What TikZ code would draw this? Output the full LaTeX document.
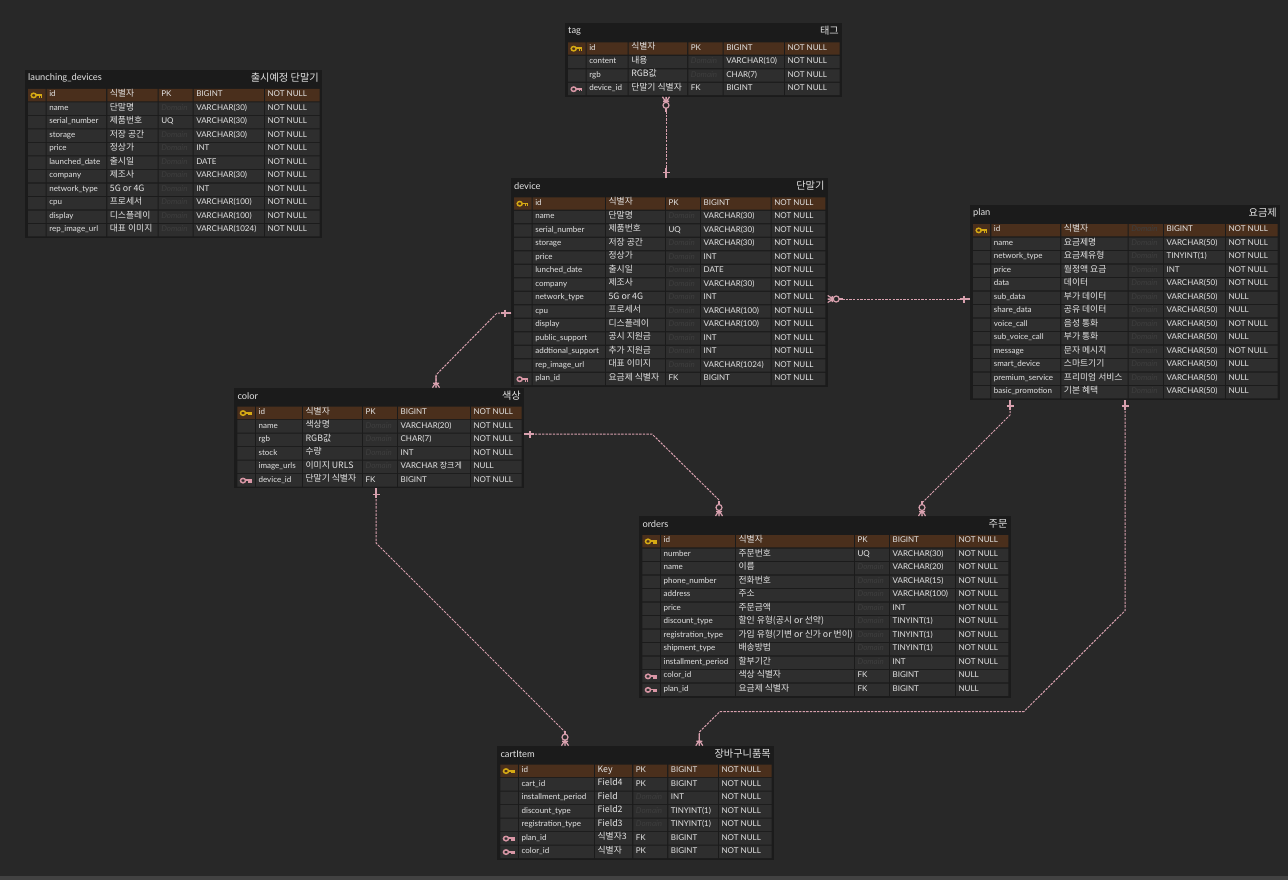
\documentclass[tikz,border=0pt]{standalone}
\usepackage{fontspec}
\setmainfont{Lato}
\newfontfamily\krfont{Noto Sans CJK KR}
\usetikzlibrary{positioning,calc}
\definecolor{canvasbg}{RGB}{40,40,40}
\definecolor{bandbg}{RGB}{66,66,66}
\definecolor{boxbg}{RGB}{27,27,27}
\definecolor{bodycell}{RGB}{46,46,46}
\definecolor{headcell}{RGB}{74,47,28}
\definecolor{celltext}{RGB}{228,228,228}
\definecolor{domtext}{RGB}{62,62,62}
\definecolor{keypk}{RGB}{214,170,20}
\definecolor{keyfk}{RGB}{216,150,165}
\definecolor{relpink}{RGB}{216,160,174}
\tikzset{
    erdbox/.style={fill=boxbg,draw=none,inner sep=0pt,outer sep=0pt,anchor=north west},
    titletext/.style={text=celltext,inner sep=0pt,font=\fontsize{9.3}{10}\selectfont},
    kotitle/.style={text=celltext,inner sep=0pt,font=\krfont\fontsize{10.2}{11}\selectfont},
    fieldtext/.style={text=celltext,inner sep=0pt,anchor=base west,font=\fontsize{8}{9}\selectfont},
    kotext/.style={fieldtext,font=\krfont\fontsize{8.8}{10}\selectfont},
    rel/.style={draw=relpink,line width=1pt,dash pattern=on 2.4pt off 1.2pt},
    relmark/.style={draw=relpink,line width=1.2pt},
    keyicon/.pic={
        \draw[draw=#1,line width=1.5pt] (-3,0) ellipse (2.5 and 2.2);
        \draw[draw=#1,line width=1.6pt] (-0.6,-0.4) -- (5.6,-0.4);
        \draw[draw=#1,line width=1.2pt] (3,0) -- (3,2.3) (5,0) -- (5,2.3);
    },
    onemark/.pic={
        \draw[relmark] (0,0) -- (0,10) (-3.5,6) -- (3.5,6);
    },
    manymark/.pic={
        \draw[relmark] (0,0) -- (0,12) (-3.5,0) -- (0,5.5) -- (3.5,0) (-3,4.5) -- (3,4.5);
    },
    zeromany/.pic={
        \draw[relmark] (-3.5,0) -- (0,5.5) -- (3.5,0) (-3,4.5) -- (3,4.5) (0,0) -- (0,5.5);
        \draw[relmark,fill=canvasbg] (0,8.5) circle (3);
        \draw[relmark] (0,11.5) -- (0,15);
    },
}
\newcommand{\dm}{\textcolor{domtext}{\itshape Domain}}
\def\parsecols#1,#2,#3,#4,#5\relax{\def\ca{#1}\def\cb{#2}\def\cc{#3}\def\cd{#4}\def\ce{#5}}
% name, left, top, width, title, korean title, column offsets, rows
\newcommand{\erdtable}[8]{
    \parsecols#7\relax
    \begin{scope}[shift={(#2,#3)}]
    \foreach \ico/\fld/\cmt/\dom/\typ/\nul [count=\n] in {#8} {\xdef\rowcount{\n}}
    \pgfmathsetmacro{\boxh}{19.5+\rowcount*13.5}
    \node[erdbox,minimum width=#4pt,minimum height=\boxh pt] (#1) at (0,0) {};
    \node[titletext,anchor=west] (#1title) at (3,8) {#5};
    \node[kotitle,anchor=east] (#1kotitle) at (#4-3,7.5) {#6};
    \foreach \ico/\fld/\cmt/\dom/\typ/\nul [count=\r from 0, evaluate=\r as \ry using 19+\r*13.5] in {#8} {
        \ifnum\r=0 \colorlet{rowfill}{headcell}\else\colorlet{rowfill}{bodycell}\fi
        \fill[rowfill] (3,\ry) rectangle (\ca-1.2,\ry+12.4)
            (\ca,\ry) rectangle (\cb-1.2,\ry+12.4)
            (\cb,\ry) rectangle (\cc-1.2,\ry+12.4)
            (\cc,\ry) rectangle (\cd-1.2,\ry+12.4)
            (\cd,\ry) rectangle (\ce-1.2,\ry+12.4)
            (\ce,\ry) rectangle (#4-2.4,\ry+12.4);
        \pic at (11.7,\ry+6.4) {keyicon=\ico};
        \node[fieldtext] at (\ca+2.4,\ry+7.8) {\fld};
        \node[kotext] at (\cb+2.4,\ry+7.6) {\cmt};
        \node[fieldtext] at (\cc+2.4,\ry+7.8) {\dom};
        \node[fieldtext] at (\cd+2.4,\ry+7.8) {\typ};
        \node[fieldtext] at (\ce+2.4,\ry+7.8) {\nul};
    }
    \end{scope}
}
\begin{document}
\begin{tikzpicture}[x=1pt,y=-1pt]
    \fill[canvasbg] (0,0) rectangle (1288,880);
    \useasboundingbox (0,0) rectangle (1288,880);
    \fill[bandbg] (0,876) rectangle (1288,880);

    % Tables
    \erdtable{launching}{25}{70}{297}{launching\_devices}{출시예정 단말기}{21.7,82.3,133.7,168.7,240}{
        keypk/id/식별자/PK/BIGINT/NOT NULL,
        none/name/단말명/\dm/VARCHAR(30)/NOT NULL,
        none/serial\_number/제품번호/UQ/VARCHAR(30)/NOT NULL,
        none/storage/저장 공간/\dm/VARCHAR(30)/NOT NULL,
        none/price/정상가/\dm/INT/NOT NULL,
        none/launched\_date/출시일/\dm/DATE/NOT NULL,
        none/company/제조사/\dm/VARCHAR(30)/NOT NULL,
        none/network\_type/5G or 4G/\dm/INT/NOT NULL,
        none/cpu/프로세서/\dm/VARCHAR(100)/NOT NULL,
        none/display/디스플레이/\dm/VARCHAR(100)/NOT NULL,
        none/rep\_image\_url/대표 이미지/\dm/VARCHAR(1024)/NOT NULL}

    \erdtable{tag}{565}{23.3}{277}{tag}{태그}{21.7,63.7,123.3,158.7,220}{
        keypk/id/식별자/PK/BIGINT/NOT NULL,
        none/content/내용/\dm/VARCHAR(10)/NOT NULL,
        none/rgb/RGB값/\dm/CHAR(7)/NOT NULL,
        keyfk/device\_id/단말기 식별자/FK/BIGINT/NOT NULL}

    \erdtable{device}{511}{178.3}{316.7}{device}{단말기}{21.7,95,155,190,260.7}{
        keypk/id/식별자/PK/BIGINT/NOT NULL,
        none/name/단말명/\dm/VARCHAR(30)/NOT NULL,
        none/serial\_number/제품번호/UQ/VARCHAR(30)/NOT NULL,
        none/storage/저장 공간/\dm/VARCHAR(30)/NOT NULL,
        none/price/정상가/\dm/INT/NOT NULL,
        none/lunched\_date/출시일/\dm/DATE/NOT NULL,
        none/company/제조사/\dm/VARCHAR(30)/NOT NULL,
        none/network\_type/5G or 4G/\dm/INT/NOT NULL,
        none/cpu/프로세서/\dm/VARCHAR(100)/NOT NULL,
        none/display/디스플레이/\dm/VARCHAR(100)/NOT NULL,
        none/public\_support/공시 지원금/\dm/INT/NOT NULL,
        none/addtional\_support/추가 지원금/\dm/INT/NOT NULL,
        none/rep\_image\_url/대표 이미지/\dm/VARCHAR(1024)/NOT NULL,
        keyfk/plan\_id/요금제 식별자/FK/BIGINT/NOT NULL}

    \erdtable{plan}{970}{205}{310}{plan}{요금제}{21.3,91.3,158.7,194,256}{
        keypk/id/식별자/\dm/BIGINT/NOT NULL,
        none/name/요금제명/\dm/VARCHAR(50)/NOT NULL,
        none/network\_type/요금제유형/\dm/TINYINT(1)/NOT NULL,
        none/price/월정액 요금/\dm/INT/NOT NULL,
        none/data/데이터/\dm/VARCHAR(50)/NOT NULL,
        none/sub\_data/부가 데이터/\dm/VARCHAR(50)/NULL,
        none/share\_data/공유 데이터/\dm/VARCHAR(50)/NULL,
        none/voice\_call/음성 통화/\dm/VARCHAR(50)/NOT NULL,
        none/sub\_voice\_call/부가 통화/\dm/VARCHAR(50)/NULL,
        none/message/문자 메시지/\dm/VARCHAR(50)/NOT NULL,
        none/smart\_device/스마트기기/\dm/VARCHAR(50)/NULL,
        none/premium\_service/프리미엄 서비스/\dm/VARCHAR(50)/NULL,
        none/basic\_promotion/기본 혜택/\dm/VARCHAR(50)/NULL}

    \erdtable{color}{234.3}{387.7}{289.7}{color}{색상}{21.7,68.7,128.7,163.7,236.7}{
        keypk/id/식별자/PK/BIGINT/NOT NULL,
        none/name/색상명/\dm/VARCHAR(20)/NOT NULL,
        none/rgb/RGB값/\dm/CHAR(7)/NOT NULL,
        none/stock/수량/\dm/INT/NOT NULL,
        none/image\_urls/이미지 URLS/\dm/VARCHAR {\krfont 장크게}/NULL,
        keyfk/device\_id/단말기 식별자/FK/BIGINT/NOT NULL}

    \erdtable{orders}{639.3}{516}{371.4}{orders}{주문}{21.7,96.7,215.7,250.7,316.7}{
        keypk/id/식별자/PK/BIGINT/NOT NULL,
        none/number/주문번호/UQ/VARCHAR(30)/NOT NULL,
        none/name/이름/\dm/VARCHAR(20)/NOT NULL,
        none/phone\_number/전화번호/\dm/VARCHAR(15)/NOT NULL,
        none/address/주소/\dm/VARCHAR(100)/NOT NULL,
        none/price/주문금액/\dm/INT/NOT NULL,
        none/discount\_type/할인 유형(공시 or 선약)/\dm/TINYINT(1)/NOT NULL,
        none/registration\_type/가입 유형(기변 or 신가 or 번이)/\dm/TINYINT(1)/NOT NULL,
        none/shipment\_type/배송방법/\dm/TINYINT(1)/NOT NULL,
        none/installment\_period/할부기간/\dm/INT/NOT NULL,
        keyfk/color\_id/색상 식별자/FK/BIGINT/NULL,
        keyfk/plan\_id/요금제 식별자/FK/BIGINT/NULL}

    \erdtable{cartitem}{497.3}{745.7}{276.7}{cartItem}{장바구니품목}{21.7,97.7,136,171,221.7}{
        keypk/id/Key/PK/BIGINT/NOT NULL,
        none/cart\_id/Field4/PK/BIGINT/NOT NULL,
        none/installment\_period/Field/\dm/INT/NOT NULL,
        none/discount\_type/Field2/\dm/TINYINT(1)/NOT NULL,
        none/registration\_type/Field3/\dm/TINYINT(1)/NOT NULL,
        keyfk/plan\_id/식별자3/FK/BIGINT/NOT NULL,
        keyfk/color\_id/식별자/PK/BIGINT/NOT NULL}

    % Relation ends
    \coordinate (tagfoot) at ([xshift=101pt]tag.south west);
    \coordinate (devicehead) at ([xshift=155pt]device.north west);
    \coordinate (deviceleft) at ([yshift=-134.7pt]device.north west);
    \coordinate (deviceright) at ([yshift=-120.7pt]device.north east);
    \coordinate (colorhead) at ([xshift=201.7pt]color.north west);
    \coordinate (colorright) at ([yshift=-46.3pt]color.north east);
    \coordinate (colorfoot) at ([xshift=141.7pt]color.south west);
    \coordinate (planleft) at ([yshift=-94pt]plan.north west);
    \coordinate (planfootA) at ([xshift=40pt]plan.south west);
    \coordinate (planfootB) at ([xshift=155pt]plan.south west);
    \coordinate (ordershA) at ([xshift=79.7pt]orders.north west);
    \coordinate (ordershB) at ([xshift=282.7pt]orders.north west);
    \coordinate (carthA) at ([xshift=67.7pt]cartitem.north west);
    \coordinate (carthB) at ([xshift=202pt]cartitem.north west);

    % Relations
    \draw[rel] (tagfoot) -- (devicehead);
    \draw[rel] (deviceleft) -- (497,313) -- (436,375) -- (colorhead);
    \draw[rel] (deviceright) -- (planleft);
    \draw[rel] (colorright) -- (652,434) -- (719,500) -- (ordershA);
    \draw[rel] (planfootA) -- (1010,415) -- (922,503) -- (ordershB);
    \draw[rel] (planfootB) -- (1125,610.7) -- (1024,711.5) -- (720,711.5) -- (699.3,732) -- (carthB);
    \draw[rel] (colorfoot) -- (376,543) -- (565,732) -- (carthA);

    % Relation marks
    \pic at (tagfoot) {zeromany};
    \pic[rotate=180] at (devicehead) {onemark};
    \pic[rotate=-90] at (deviceleft) {onemark};
    \pic[rotate=180] at (colorhead) {manymark};
    \pic[rotate=90] at (deviceright) {zeromany};
    \pic[rotate=-90] at (planleft) {onemark};
    \pic[rotate=90] at (colorright) {onemark};
    \pic[rotate=180] at (ordershA) {zeromany};
    \pic at (planfootA) {onemark};
    \pic[rotate=180] at (ordershB) {zeromany};
    \pic at (planfootB) {onemark};
    \pic[rotate=180] at (carthB) {manymark};
    \pic at (colorfoot) {onemark};
    \pic[rotate=180] at (carthA) {zeromany};
\end{tikzpicture}
\end{document}
